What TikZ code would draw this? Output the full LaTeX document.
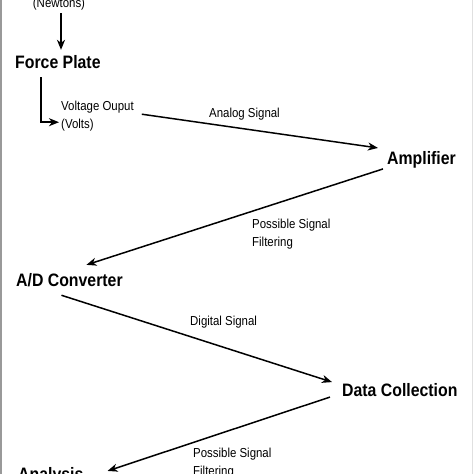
\documentclass[tikz,border=0pt]{standalone}
\usepackage{fontspec}
\setmainfont{Liberation Sans}
\newfontfamily\condfont[FakeStretch=0.88]{Liberation Sans}
\usetikzlibrary{arrows.meta}
\tikzset{
  stage/.style={font=\condfont\fontsize{18}{20}\selectfont\bfseries, inner sep=0pt, anchor=base west},
  note/.style={font=\condfont\fontsize{13}{18.5}\selectfont, inner sep=0pt, align=left},
  flow/.style={line width=1.5pt, -{Stealth[length=10pt,width=8pt,inset=3pt]}}
}
\begin{document}
\begin{tikzpicture}[x=1pt,y=-1pt]
	\useasboundingbox (0,0) rectangle (474,474);
	% Frame
	\draw[black!40, line width=2pt] (1,0) -- (1,474);
	\draw[black!12, line width=1pt] (472.5,0) -- (472.5,474);

	% Stages
	\node[stage] (fp) at (15,68) {Force Plate};
	\node[stage] (amp) at (387,164) {Amplifier};
	\node[stage] (ad) at (16,286) {A/D Converter};
	\node[stage] (dc) at (342,396) {Data Collection};
	\node[stage] (an) at (18,480) {Analysis};

	% Notes
	\node[note, anchor=base] (newtons) at (59,7) {(Newtons)};
	\node[note, anchor=north west] (volt) at (61,100.5) {Voltage Ouput\\(Volts)};
	\node[note, anchor=base west] (analog) at (209,117) {Analog Signal};
	\node[note, anchor=north west] (filtA) at (252,218.5) {Possible Signal\\Filtering};
	\node[note, anchor=base west] (digital) at (190,325) {Digital Signal};
	\node[note, anchor=north west] (filtB) at (193,447.5) {Possible Signal\\Filtering};

	% Signal path
	\draw[flow] ([xshift=2pt,yshift=-3.3pt]newtons.south) -- ([xshift=2pt,yshift=4.9pt]newtons.south |- fp.north);
	\draw[flow] ([xshift=26pt,yshift=-9pt]fp.base west) |- ([xshift=-2pt,yshift=-6.2pt]volt.west);
	\draw[flow] ([xshift=7.9pt,yshift=1.8pt]volt.east) -- ([xshift=-9pt,yshift=11.4pt]amp.west);
	\draw[flow] ([xshift=-4pt,yshift=-9.6pt]amp.west) -- ([xshift=17pt,yshift=7.9pt]ad.north);
	\draw[flow] ([xshift=-8pt,yshift=-8.7pt]ad.south) -- ([xshift=-10pt,yshift=7.5pt]dc.west);
	\draw[flow] ([xshift=-12pt,yshift=-7.5pt]dc.west) -- ([xshift=24pt,yshift=4.4pt]an.east);
\end{tikzpicture}
\end{document}
